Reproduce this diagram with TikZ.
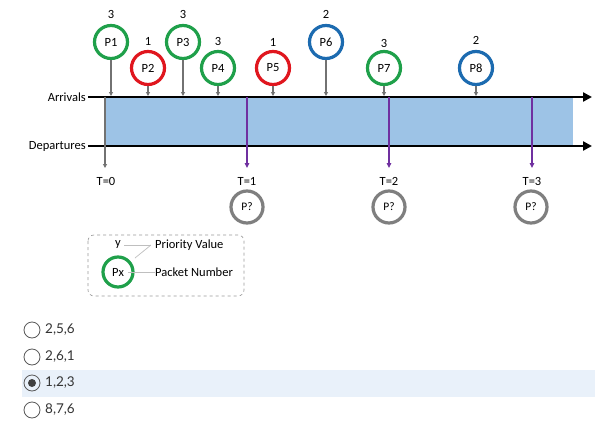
\documentclass[tikz,border=0pt]{standalone}
\usepackage{fontspec}
\setmainfont{Carlito}
\newfontfamily\latofont{Lato}
\usetikzlibrary{arrows.meta}
\definecolor{pgreen}{HTML}{1FA04A}
\definecolor{pred}{HTML}{E0161E}
\definecolor{pblue}{HTML}{1C6BB0}
\definecolor{qgrey}{HTML}{7F7F7F}
\definecolor{qblue}{HTML}{9DC3E6}
\definecolor{qpurple}{HTML}{7030A0}
\definecolor{hlband}{HTML}{E9F1FA}
\tikzset{
  pkt/.style={circle, draw=#1, line width=3.2pt, minimum size=33pt, inner sep=0pt, font=\fontsize{12.5}{14}\selectfont},
  unk/.style={circle, draw=qgrey, line width=3.2pt, minimum size=32pt, inner sep=0pt, font=\fontsize{11.5}{13}\selectfont},
  prio/.style={font=\fontsize{12.5}{14}\selectfont, inner sep=0pt},
  lbl/.style={font=\fontsize{12.5}{14}\selectfont, inner sep=0pt},
  drop/.style={draw=qgrey!90!black, line width=1.1pt, -{Triangle[length=4pt,width=4pt]}},
  tline/.style={draw=qpurple, line width=1.2pt, -{Triangle[length=5pt,width=4.5pt]}},
  axis/.style={draw=black, line width=2.6pt, -{Triangle[length=9pt,width=9pt]}},
  radio/.style={circle, draw=black!65, line width=0.8pt, minimum size=16pt, inner sep=0pt},
  opt/.style={font=\latofont\fontsize{13.5}{15}\selectfont, anchor=west, inner sep=0pt, text=black!80},
  legline/.style={draw=black!25, line width=0.7pt}
}
\begin{document}
\begin{tikzpicture}[x=1pt,y=-1pt]
\useasboundingbox (0,0) rectangle (595,431);
\fill[white] (0,0) rectangle (595,431);
% queue
\fill[qblue] (105,97) rectangle (573,146);
% axes
\coordinate (a0) at (88,97); \coordinate (a1) at (592,97);
\coordinate (d0) at (88,146); \coordinate (d1) at (592,146);
\draw[axis] (a0) -- (a1);
\draw[axis] (d0) -- (d1);
\node[lbl, anchor=east] (arrl) at (86,97) {Arrivals};
\node[lbl, anchor=east] (depl) at (86,146) {Departures};
% time lines
\coordinate (t0a) at (105,97); \coordinate (t0b) at (105,168);
\draw[drop] (t0a) -- (t0b);
\coordinate (t1a) at (247,97); \coordinate (t1b) at (247,168);
\coordinate (t2a) at (389,97); \coordinate (t2b) at (389,168);
\coordinate (t3a) at (532,97); \coordinate (t3b) at (532,168);
\draw[tline] (t1a) -- (t1b);
\draw[tline] (t2a) -- (t2b);
\draw[tline] (t3a) -- (t3b);
\node[lbl] (T0) at (106,181) {T=0};
\node[lbl] (T1) at (247,181) {T=1};
\node[lbl] (T2) at (389,181) {T=2};
\node[lbl] (T3) at (532,181) {T=3};
\node[unk] (u1) at (247,207) {P?};
\node[unk] (u2) at (389,207) {P?};
\node[unk] (u3) at (531,207) {P?};
% packets
\node[pkt=pgreen] (p1) at (111,42) {P1};
\node[pkt=pred]   (p2) at (148,68) {P2};
\node[pkt=pgreen] (p3) at (183,42) {P3};
\node[pkt=pgreen] (p4) at (218,68) {P4};
\node[pkt=pred]   (p5) at (273,68) {P5};
\node[pkt=pblue]  (p6) at (326,42) {P6};
\node[pkt=pgreen] (p7) at (384,68) {P7};
\node[pkt=pblue]  (p8) at (476,68) {P8};
\node[prio] (r1) at (111,14) {3};
\node[prio] (r2) at (148,41) {1};
\node[prio] (r3) at (183,14) {3};
\node[prio] (r4) at (218,41) {3};
\node[prio] (r5) at (273,42) {1};
\node[prio] (r6) at (326,14) {2};
\node[prio] (r7) at (384,43) {3};
\node[prio] (r8) at (476,40) {2};
\foreach \p/\x in {p1/111,p2/148,p3/183,p4/218,p5/273,p6/326,p7/384,p8/476}{
  \coordinate (\p e) at (\x,96);
  \draw[drop] (\p) -- (\p e);
}
% legend
\draw[black!40, dashed, line width=0.6pt, rounded corners=6pt] (88,235) rectangle (244,296);
\node[lbl] (ly) at (118,245) {y};
\node[pkt=pgreen, minimum size=30pt] (lpx) at (118,272) {Px};
\node[lbl, anchor=west] (lpv) at (155,245) {Priority Value};
\node[lbl, anchor=west] (lpn) at (155,272) {Packet Number};
\coordinate (lj) at (151,245);
\draw[legline] (ly.east) ++(3,0) -- (lj);
\coordinate (ld) at (135,258);
\draw[legline] (lj) -- (ld);
\coordinate (lpxin) at (128,272);
\draw[legline] (lpxin) -- (lpn.west);
% options
\fill[hlband] (22,370) rectangle (595,397);
\node[radio] (o1) at (32,330) {};
\node[radio] (o2) at (32,357) {};
\node[radio] (o3) at (32,383) {};
\node[radio] (o4) at (32,410) {};
\fill[black!75] (o3.center) circle (4pt);
\node[opt] (l1) at (45,330) {2,5,6};
\node[opt] (l2) at (45,357) {2,6,1};
\node[opt] (l3) at (45,383) {1,2,3};
\node[opt] (l4) at (45,410) {8,7,6};
\end{tikzpicture}
\end{document}
